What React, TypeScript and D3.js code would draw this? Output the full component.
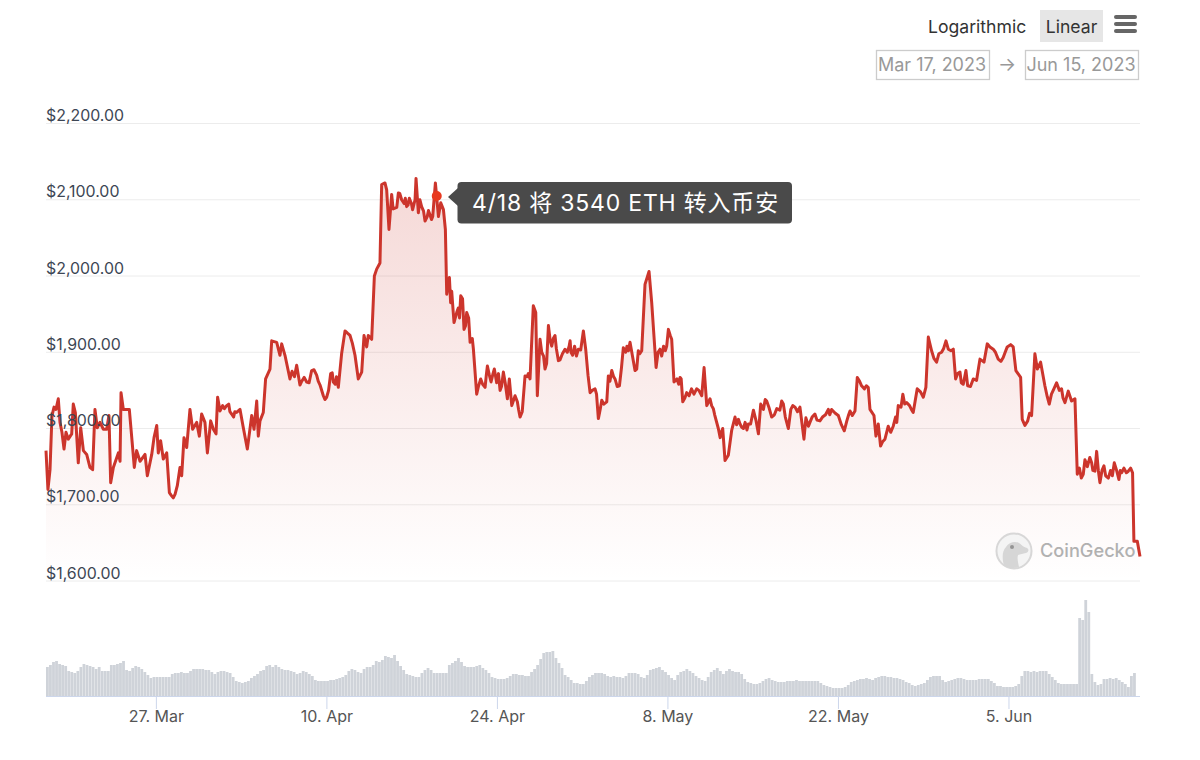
import React from "react";
import * as d3 from "d3";

// Days since the first sample (17 Mar 2023, 22:30 UTC)
const priceDays = [
  0, 0.16, 0.33, 0.49, 0.66, 0.82, 1.01, 1.15, 1.31, 1.48, 1.64, 1.83, 2.11, 2.24, 2.41, 2.65, 2.85, 3.07, 3.34, 3.61,
  3.83, 4.02, 4.21, 4.43, 4.71, 4.98, 5.17, 5.31, 5.53, 5.94, 6.08, 6.16, 6.35, 6.57, 6.84, 7.03, 7.25, 7.44, 7.72, 8.13,
  8.32, 8.68, 8.87, 9.09, 9.22, 9.41, 9.63, 9.91, 10.13, 10.45, 10.78, 11.0, 11.14, 11.33, 11.55, 11.82, 12.04, 12.37, 12.59, 12.78,
  13.05, 13.25, 13.52, 13.74, 13.96, 14.09, 14.29, 14.5, 14.83, 15.24, 15.65, 15.93, 16.2, 16.53, 16.89, 17.08, 17.3, 17.43, 17.57, 17.84,
  18.03, 18.39, 18.53, 18.94, 19.21, 19.35, 19.62, 20.03, 20.58, 20.85, 21.4, 21.81, 22.22, 22.5, 22.77, 23.04, 23.37, 23.59, 24.0, 24.27,
  24.55, 24.96, 25.37, 25.64, 25.92, 26.11, 26.33, 26.46, 26.74, 26.96, 27.15, 27.42, 27.56, 27.83, 27.97, 28.16, 28.38, 28.65, 28.93, 29.2,
  29.61, 29.83, 30.1, 30.38, 30.57, 30.84, 31.12, 31.53, 31.75, 31.97, 32.22, 32.41, 32.63, 32.79, 32.9, 33.12, 33.31, 33.5, 33.72, 34.05,
  34.32, 34.54, 34.82, 35.09, 35.36, 35.69, 36.05, 36.24, 36.54, 36.81, 37.28, 37.55, 37.88, 38.04, 38.24, 38.51, 38.92, 39.33, 39.74, 40.01,
  40.21, 40.34, 40.56, 40.97, 41.25, 41.52, 41.79, 42.07, 42.61, 43.03, 43.24, 43.71, 44.12, 44.31, 44.67, 45.08, 45.35, 45.63, 46.04, 46.17,
  46.45, 46.72, 47.08, 47.4, 47.82, 47.95, 48.36, 48.63, 48.91, 49.18, 49.51, 49.73, 50.09, 50.41, 50.96, 51.1, 51.37, 51.56, 52.06, 52.28,
  52.6, 53.42, 53.84, 54.03, 54.25, 54.52, 54.79, 55.2, 55.56, 55.75, 56.02, 56.3, 56.57, 56.98, 57.26, 57.67, 58.08, 58.49, 58.68, 59.17,
  59.58, 60.54, 60.95, 61.31, 61.9, 62.23, 62.39, 62.72, 63.13, 63.54, 64.23, 64.5, 65.05, 65.54, 66.01, 66.42, 66.61, 66.96, 67.51, 67.65,
  67.98, 68.14, 68.33, 68.52, 68.88, 69.15, 69.56, 69.97, 70.66, 71.2, 71.53, 72.03, 72.24, 72.44, 72.71, 73.12, 73.53, 73.89, 74.08, 74.49,
  74.68, 75.04, 75.31, 75.53, 75.67, 76.13, 76.4, 76.68, 77.01, 77.28, 77.77, 78.18, 78.59, 78.92, 79.41, 79.63, 80.02, 80.15, 80.37, 80.92,
  81.19, 81.39, 81.66, 82.01, 82.37, 82.97, 83.38, 83.66, 83.93, 84.2, 84.48, 84.67, 85.16, 85.3, 85.85, 86.12, 86.26, 86.53, 86.86, 87.22,
  87.71, 88.09, 88.31, 88.86, 89.21, 89.32, 89.6, 89.82,
];

const priceValues = [
  1771, 1720, 1746, 1817, 1828, 1825, 1839, 1808, 1795, 1773, 1795, 1786, 1793, 1832, 1821, 1755, 1801, 1771, 1766, 1749,
  1746, 1825, 1801, 1808, 1799, 1799, 1817, 1729, 1749, 1768, 1757, 1847, 1825, 1825, 1825, 1790, 1749, 1771, 1757, 1766,
  1738, 1766, 1788, 1804, 1768, 1784, 1760, 1768, 1716, 1709, 1725, 1749, 1738, 1788, 1775, 1825, 1799, 1808, 1790, 1819,
  1808, 1768, 1810, 1799, 1793, 1841, 1823, 1830, 1830, 1819, 1821, 1825, 1801, 1773, 1817, 1799, 1836, 1790, 1810, 1821,
  1865, 1878, 1915, 1913, 1896, 1911, 1896, 1865, 1883, 1857, 1861, 1876, 1870, 1857, 1843, 1841, 1872, 1861, 1854, 1898,
  1928, 1922, 1896, 1865, 1874, 1922, 1907, 1922, 1917, 2000, 2009, 2017, 2120, 2122, 2113, 2061, 2107, 2089, 2109, 2100,
  2091, 2102, 2087, 2128, 2083, 2091, 2072, 2080, 2078, 2122, 2078, 2096, 2087, 2061, 1976, 1998, 1980, 1939, 1952, 1974,
  1930, 1952, 1913, 1904, 1845, 1865, 1854, 1882, 1861, 1878, 1850, 1874, 1839, 1865, 1830, 1843, 1815, 1869, 1865, 1961,
  1952, 1843, 1917, 1878, 1935, 1908, 1922, 1889, 1904, 1915, 1896, 1904, 1928, 1904, 1847, 1852, 1813, 1837, 1835, 1869,
  1876, 1865, 1856, 1906, 1902, 1913, 1876, 1902, 1902, 1989, 2006, 1965, 1880, 1904, 1908, 1930, 1917, 1861, 1867, 1835,
  1847, 1852, 1843, 1880, 1830, 1839, 1826, 1800, 1800, 1758, 1765, 1798, 1815, 1806, 1800, 1806, 1824, 1793, 1832, 1836,
  1815, 1832, 1800, 1830, 1828, 1786, 1814, 1808, 1819, 1810, 1825, 1825, 1817, 1797, 1823, 1823, 1867, 1856, 1854, 1825,
  1817, 1790, 1806, 1777, 1786, 1803, 1803, 1830, 1834, 1821, 1852, 1841, 1854, 1920, 1902, 1887, 1900, 1915, 1904, 1904,
  1865, 1874, 1858, 1876, 1856, 1865, 1863, 1891, 1887, 1911, 1904, 1891, 1893, 1907, 1907, 1876, 1867, 1812, 1804, 1817,
  1898, 1878, 1887, 1856, 1832, 1860, 1852, 1834, 1849, 1836, 1839, 1740, 1740, 1759, 1755, 1744, 1770, 1729, 1751, 1735,
  1755, 1733, 1742, 1744, 1742, 1652, 1652, 1632,
];

// Finer readings of the jagged stretches, merged with the ones above by day
const detailDays = [
  10.3, 10.6, 14.65, 15.0, 15.1, 15.4, 15.5, 20.2, 20.4, 21.0, 21.2, 21.6, 22.0, 22.35, 22.9, 23.2, 23.5, 23.75, 23.85,
  24.75, 25.15, 28.5, 28.8, 29.05, 29.4, 29.5, 29.72, 30.0, 30.3, 30.7, 31.0, 31.3, 31.4, 31.65,
  33.22, 33.4, 33.85, 33.95, 34.2, 34.45, 34.7, 35.0, 35.5, 35.85, 36.15, 36.4, 36.7, 37.0, 37.15, 37.4, 37.7, 38.7, 38.8, 39.1, 39.5, 39.6,
  40.7, 40.85, 41.1, 41.4, 41.65, 41.9, 42.2, 42.4, 42.8, 42.95, 43.1, 43.4, 43.55, 43.9, 44.5, 44.85, 45.2, 45.5, 45.8, 46.3, 46.6, 46.9,
  47.25, 47.6, 47.7, 48.15, 48.5, 48.75, 50.25, 50.55, 50.7, 50.85, 51.25, 51.8, 51.95, 52.15, 52.45, 52.8, 53.0, 53.2, 53.6,
  54.4, 54.65, 54.9, 55.35, 55.45, 56.7, 56.85, 57.1, 57.4, 57.55, 57.85, 58.3, 58.9, 59.05, 59.35, 59.8, 60.0, 60.25, 60.4, 60.7, 61.15, 61.5, 61.7,
  62.6, 62.9, 63.3, 63.75, 64.0, 64.35, 64.8, 65.3, 65.75, 65.9, 66.2, 66.8, 67.2, 67.35, 68.7, 69.35, 69.75, 69.85, 70.2, 70.35, 70.5, 70.9, 71.05, 71.35, 71.8,
  72.9, 73.3, 73.7, 74.3, 74.85, 75.15, 75.9, 77.5, 77.95, 78.4, 78.75, 79.2, 80.6, 80.75, 82.2, 82.55, 82.75, 83.2, 83.5,
  84.85, 85.0, 85.5, 85.7, 85.95, 86.4, 86.7, 87.0, 87.4, 87.55, 87.9, 88.2, 88.5, 88.7, 89.05,
];

const detailValues = [
  1712, 1714, 1826, 1832, 1822, 1815, 1822, 1875, 1868, 1862, 1867, 1860, 1877, 1862, 1838, 1850, 1873, 1858, 1868,
  1925, 1912, 2088, 2090, 2108, 2095, 2102, 2093, 2095, 2100, 2100, 2085, 2078, 2086, 2074,
  1965, 1960, 1958, 1945, 1970, 1935, 1945, 1918, 1855, 1858, 1870, 1870, 1872, 1860, 1872, 1855, 1860, 1835, 1825, 1822, 1868, 1872,
  1900, 1895, 1885, 1915, 1918, 1905, 1890, 1898, 1900, 1908, 1900, 1908, 1895, 1903, 1870, 1850, 1845, 1825, 1832, 1862, 1868, 1855,
  1880, 1900, 1908, 1895, 1878, 1898, 1900, 1895, 1908, 1902, 1922, 1865, 1858, 1865, 1840, 1843, 1852, 1845, 1850,
  1835, 1830, 1818, 1788, 1795, 1805, 1812, 1802, 1808, 1798, 1806, 1810, 1825, 1838, 1828, 1818, 1826, 1824, 1836, 1815, 1825, 1828, 1822,
  1803, 1815, 1811, 1815, 1818, 1818, 1820, 1805, 1810, 1818, 1817, 1862, 1852, 1856, 1783, 1795, 1815, 1808, 1828, 1845, 1832, 1830, 1825, 1835, 1848,
  1892, 1898, 1905, 1902, 1872, 1860, 1855, 1907, 1900, 1888, 1900, 1910, 1810, 1820, 1842, 1845, 1852, 1850, 1840,
  1748, 1735, 1750, 1762, 1745, 1745, 1745, 1738, 1745, 1738, 1745, 1745, 1748, 1742, 1748,
];

// Relative traded volume, one bar every six hours
const volumeValues = [
  29, 31, 34, 35, 32, 31, 30, 25, 24, 23, 25, 29, 32, 31, 30, 29, 27, 29, 25, 25, 25, 31, 31, 32, 33, 35, 26, 25, 28, 30,
  29, 27, 24, 21, 18, 19, 19, 19, 19, 19, 19, 22, 23, 23, 24, 23, 23, 25, 27, 27, 27, 27, 26, 26, 24, 22, 24, 25, 25, 24,
  23, 19, 15, 14, 13, 14, 15, 18, 20, 22, 25, 26, 30, 31, 29, 31, 29, 27, 26, 26, 25, 24, 22, 23, 25, 24, 22, 20, 16, 15,
  15, 15, 15, 16, 16, 17, 18, 19, 21, 25, 27, 26, 24, 23, 27, 29, 29, 31, 35, 34, 36, 40, 39, 38, 41, 35, 30, 26, 22, 21,
  20, 19, 19, 23, 26, 28, 26, 23, 23, 23, 23, 23, 31, 33, 35, 38, 34, 30, 29, 29, 29, 30, 31, 28, 26, 23, 19, 18, 17, 17,
  17, 18, 20, 22, 22, 21, 21, 20, 20, 24, 27, 31, 37, 43, 44, 44, 45, 38, 33, 28, 21, 19, 16, 13, 13, 12, 12, 15, 19, 21,
  23, 23, 23, 22, 20, 19, 20, 19, 19, 18, 20, 23, 23, 23, 22, 19, 18, 21, 26, 27, 28, 29, 26, 24, 21, 18, 16, 21, 24, 25,
  27, 25, 23, 20, 18, 16, 15, 19, 24, 26, 28, 25, 22, 25, 27, 25, 24, 24, 22, 17, 14, 13, 12, 12, 13, 15, 17, 18, 16, 15,
  14, 14, 14, 15, 15, 15, 16, 15, 15, 15, 15, 15, 15, 15, 13, 11, 10, 9, 8, 8, 8, 8, 9, 11, 14, 15, 16, 17, 17,
  18, 17, 16, 18, 19, 20, 20, 19, 19, 18, 18, 17, 16, 14, 13, 11, 10, 11, 12, 13, 16, 19, 20, 20, 20, 16, 14, 15, 16, 17,
  18, 18, 17, 16, 16, 16, 16, 17, 17, 17, 17, 15, 13, 10, 10, 9, 9, 9, 9, 10, 12, 20, 25, 25, 24, 25, 24, 25, 25, 25,
  22, 19, 16, 13, 12, 12, 12, 12, 12, 12, 78, 76, 96, 84, 22, 14, 11, 12, 17, 17, 18, 17, 18, 16, 14, 12, 9, 20,
  23,
];

const priceTicks = [1600, 1700, 1800, 1900, 2000, 2100, 2200];
const dateTicks = ["2023-03-27", "2023-04-10", "2023-04-24", "2023-05-08", "2023-05-22", "2023-06-05"];
const flagDay = 32.08;
const flagPrice = 2105;
const flagText = "4/18 将 3540 ETH 转入币安";
const rangeLabels = ["Mar 17, 2023", "Jun 15, 2023"];

const FONT = "Inter, 'Noto Sans CJK SC', sans-serif";
const LINE = "#cc352c";
const DAY = 86400000;
const startTime = Date.UTC(2023, 2, 17, 22, 30);
const toDate = (d: number) => new Date(startTime + d * DAY);

const x = d3.scaleUtc().domain([toDate(0), toDate(89.82)]).range([46, 1140]);
const y = d3.scaleLinear().domain([1600, 2200]).range([581, 123.5]);
const yVolume = d3.scaleLinear().domain([0, 100]).range([696, 596]);

const priceData = d3.sort(
  [
    ...priceDays.map((d, i) => ({ day: d, price: priceValues[i] })),
    ...detailDays.map((d, i) => ({ day: d, price: detailValues[i] })),
  ],
  (d) => d.day,
).map((d) => ({ date: toDate(d.day), price: d.price }));

const line = d3
  .line<{ date: Date; price: number }>()
  .x((d) => x(d.date))
  .y((d) => y(d.price));

const area = d3
  .area<{ date: Date; price: number }>()
  .x((d) => x(d.date))
  .y0(y(1600))
  .y1((d) => y(d.price));

const formatPrice = d3.format("$,.2f");
const formatDate = d3.utcFormat("%-d. %b");

const App = () => {
  const barWidth = x(toDate(0.25)) - x(toDate(0));

  return (
    <svg
      width={1200}
      height={760}
      style={{ position: "absolute", left: 0, top: 0, background: "#fff" }}
      fontFamily={FONT}
    >
      <defs>
        <linearGradient id="priceFill" gradientUnits="userSpaceOnUse" x1="0" x2="0" y1={180} y2={581}>
          <stop offset="0" stopColor={LINE} stopOpacity={0.19} />
          <stop offset="1" stopColor={LINE} stopOpacity={0} />
        </linearGradient>
      </defs>

      {/* range selector */}
      <text x={928} y={33} fontSize={17.6} fill="#333">Logarithmic</text>
      <rect x={1040} y={10} width={63} height={32} fill="#e6e6e6" />
      <text x={1071.5} y={33} fontSize={17.6} fill="#333" textAnchor="middle">Linear</text>
      {[17, 24, 31].map((top) => (
        <rect key={top} x={1114} y={top - 2} width={23} height={4} rx={2} fill="#666" />
      ))}
      <rect x={876.5} y={50.5} width={113} height={29} fill="#fff" stroke="#ccc" strokeWidth={1.3} />
      <text x={932} y={71} fontSize={18} fill="#999" textAnchor="middle">{rangeLabels[0]}</text>
      <text x={1007} y={71} fontSize={19} fill="#999" textAnchor="middle">→</text>
      <rect x={1025.5} y={50.5} width={113} height={29} fill="#fff" stroke="#ccc" strokeWidth={1.3} />
      <text x={1081} y={71} fontSize={18} fill="#999" textAnchor="middle">{rangeLabels[1]}</text>

      {/* grid */}
      {priceTicks.map((t) => (
        <line key={t} x1={46} x2={1140} y1={y(t)} y2={y(t)} stroke="#ececec" />
      ))}

      <path d={area(priceData) ?? ""} fill="url(#priceFill)" />

      {/* CoinGecko mark */}
      <g opacity={0.95}>
        <circle cx={1014} cy={551} r={17.5} fill="#f4f4f4" stroke="#d6d6d6" strokeWidth={2} />
        <path
          d="M1004 566c-2-8-2-15 2-19 3-5 9-6 13-4 3 2 4 4 8 5 2 1 2 4-1 5-3 1-6 1-8 2-1 3 0 7 1 12-5 2-11 1-15-1z"
          fill="#d4d4d4"
        />
        <circle cx={1012} cy={547} r={2} fill="#8f8f8f" />
        <text x={1040} y={557} fontSize={18.2} fontWeight={500} fill="#adadad">CoinGecko</text>
      </g>

      <path d={line(priceData) ?? ""} fill="none" stroke={LINE} strokeWidth={3} strokeLinejoin="round" />

      {/* price labels sit on top of the line */}
      {priceTicks.map((t) => (
        <text key={t} x={46} y={y(t) - 2.5} fontSize={15.9} fill="#3d4654">
          {formatPrice(t)}
        </text>
      ))}

      {/* volume */}
      {volumeValues.map((v, i) => (
        <rect
          key={i}
          x={x(toDate(i * 0.25))}
          y={yVolume(v)}
          width={barWidth - 0.25}
          height={yVolume(0) - yVolume(v)}
          fill="#cfd3d9"
        />
      ))}
      <line x1={46} x2={1140} y1={696.5} y2={696.5} stroke="#ccd6eb" />

      {/* date axis */}
      {dateTicks.map((t) => {
        const date = new Date(t + "T00:00:00Z");
        return (
          <g key={t} transform={`translate(${x(date)},0)`}>
            <line y1={697} y2={709} stroke="#ccd6eb" />
            <text y={722} fontSize={16} fill="#555" textAnchor="middle">
              {formatDate(date)}
            </text>
          </g>
        );
      })}

      {/* flag */}
      <circle cx={x(toDate(flagDay))} cy={y(flagPrice)} r={5} fill="#e8391f" />
      <path d="M448 197 L458 188 V206 Z" fill="#4a4a4a" />
      <rect x={457.5} y={182} width={334.5} height={41.5} rx={4} fill="#4a4a4a" />
      <text x={472} y={211} fontSize={23} letterSpacing={0.8} fill="#fff">{flagText}</text>
    </svg>
  );
};

export default App;
